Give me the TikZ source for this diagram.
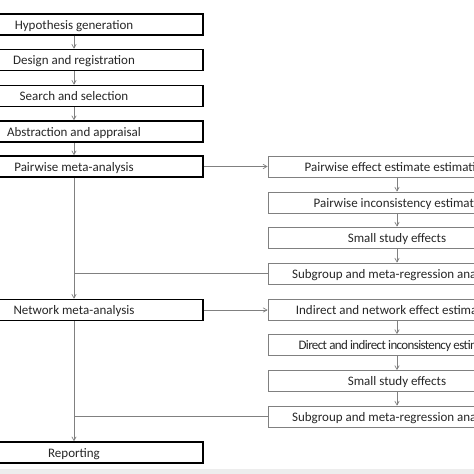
\documentclass[tikz,border=0pt]{standalone}
\usepackage{fontspec}
\setmainfont{Carlito}
\usepackage{tikz}
\usetikzlibrary{arrows}
\usetikzlibrary{calc}
\usetikzlibrary{positioning}

\begin{document}
\begin{tikzpicture}[x=1pt,y=-1pt,>=angle 60,font=\fontsize{13}{15}\selectfont]
\tikzstyle{stage} = [draw=black, line width=1.6pt, minimum width=258pt, minimum height=21pt, inner sep=0pt, text height=12pt, text depth=3pt, text=black!85]
\tikzstyle{task} = [draw=black!50, line width=0.8pt, minimum width=258pt, minimum height=21pt, inner sep=0pt, text height=12pt, text depth=3pt, text=black!85]
\tikzstyle{link} = [draw=black!50, line width=0.7pt]
\useasboundingbox (0,0) rectangle (474,474);
\clip (0,0) rectangle (474,474);
\fill[black!7] (0,469) rectangle (474,474);

% main stages
\node[stage] (hyp) at (74,24.5) {Hypothesis generation};
\node[stage] (des) at (74,60) {Design and registration};
\node[stage] (sea) at (74,96) {Search and selection};
\node[stage] (abs) at (74,131.5) {Abstraction and appraisal};
\node[stage] (pw) at (74,166.5) {Pairwise meta-analysis};
\node[stage] (nma) at (74,310) {Network meta-analysis};
\node[stage] (rep) at (74,452.5) {Reporting};

% pairwise tasks
\node[task] (pwe) at (397,166.5) {Pairwise effect estimate estimation};
\node[task] (pwi) at (397,202.5) {Pairwise inconsistency estimate};
\node[task] (pws) at (397,237.5) {Small study effects};
\node[task] (pwm) at (397,273.5) {Subgroup and meta-regression analyses};

% network tasks
\node[task] (nme) at (397,310) {Indirect and network effect estimation};
\node[task,font=\fontsize{13}{15}\selectfont\addfontfeature{LetterSpace=-5}] (nmi) at (397,345) {Direct and indirect inconsistency estimate};
\node[task] (nms) at (397,381) {Small study effects};
\node[task] (nmm) at (397,416.5) {Subgroup and meta-regression analyses};

\draw[link,->] (hyp) -- (des);
\draw[link,->] (des) -- (sea);
\draw[link,->] (sea) -- (abs);
\draw[link,->] (abs) -- (pw);
\draw[link,->] (pw) -- (nma);
\draw[link,->] (nma) -- (rep);

\draw[link,->] (pw) -- (pwe);
\draw[link,->] (pwe) -- (pwi);
\draw[link,->] (pwi) -- (pws);
\draw[link,->] (pws) -- (pwm);
\draw[link] (pwm.west) -- (pwm.west -| pw.south);

\draw[link,->] (nma) -- (nme);
\draw[link,->] (nme) -- (nmi);
\draw[link,->] (nmi) -- (nms);
\draw[link,->] (nms) -- (nmm);
\draw[link] (nmm.west) -- (nmm.west -| nma.south);
\end{tikzpicture}
\end{document}
